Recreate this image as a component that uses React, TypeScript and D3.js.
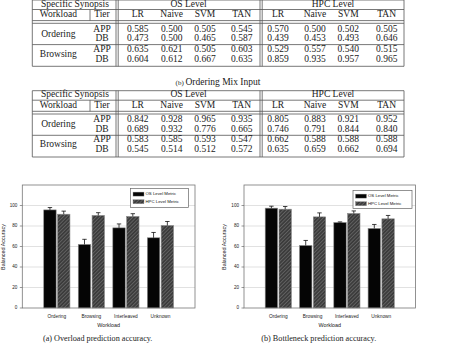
import React from "react";
import * as d3 from "d3";

// ---- table data (rows: Ordering APP, Ordering DB, Browsing APP, Browsing DB; cols: OS LR..TAN, HPC LR..TAN)
const METHODS = ["LR", "Naive", "SVM", "TAN"];
const WORKLOADS = ["Ordering", "Browsing"];
const TIERS = ["APP", "DB"];

const TABLE_TOP_ROWS = [
  ["0.585", "0.500", "0.505", "0.545", "0.570", "0.500", "0.502", "0.505"],
  ["0.473", "0.500", "0.465", "0.587", "0.439", "0.453", "0.493", "0.646"],
  ["0.635", "0.621", "0.505", "0.603", "0.529", "0.557", "0.540", "0.515"],
  ["0.604", "0.612", "0.667", "0.635", "0.859", "0.935", "0.957", "0.965"],
];

const TABLE_MIX_ROWS = [
  ["0.842", "0.928", "0.965", "0.935", "0.805", "0.883", "0.921", "0.952"],
  ["0.689", "0.932", "0.776", "0.665", "0.746", "0.791", "0.844", "0.840"],
  ["0.583", "0.585", "0.593", "0.547", "0.662", "0.588", "0.588", "0.588"],
  ["0.545", "0.514", "0.512", "0.572", "0.635", "0.659", "0.662", "0.694"],
];

// ---- bar chart data
const CATEGORIES = ["Ordering", "Browsing", "Interleaved", "Unknown"];
const SERIES = ["OS Level Metric", "HPC Level Metric"];
const Y_TICKS = [0, 20, 40, 60, 80, 100];

const OVERLOAD_OS = [95.7, 62, 78.2, 68.5];
const OVERLOAD_OS_ERR = [2.3, 5, 3.8, 5.2];
const OVERLOAD_HPC = [91.5, 90.3, 89.3, 80.5];
const OVERLOAD_HPC_ERR = [3, 2.7, 2.7, 3.9];

const BOTTLENECK_OS = [97.4, 61, 83.4, 77.6];
const BOTTLENECK_OS_ERR = [1.9, 4.9, 0.6, 3.9];
const BOTTLENECK_HPC = [96.4, 88.9, 92.2, 87];
const BOTTLENECK_HPC_ERR = [2.6, 3.9, 2.5, 3.3];

const SERIF = "'Liberation Serif', 'Times New Roman', serif";
const SANS = "'Liberation Sans', Arial, sans-serif";
const LINE = "#555";

// column layout of the tables
const COL_X = [137.7, 171.7, 205, 241.7, 278, 315, 348.3, 386.7];
const T_LEFT = 32.3;
const T_RIGHT = 404;

function ResultTable({ y0, rows }: { y0: number; rows: string[][] }) {
  const fs = 9.5;
  const rowY = [29.5, 39.2, 49.6, 59.5].map((v) => y0 + v);
  const hl = (y: number, key: string) => (
    <line key={key} x1={T_LEFT} x2={T_RIGHT} y1={y} y2={y} stroke={LINE} strokeWidth={0.8} />
  );
  const vl = (x: number, ya: number, yb: number, key: string) => (
    <line key={key} x1={x} x2={x} y1={ya} y2={yb} stroke={LINE} strokeWidth={0.8} />
  );
  return (
    <g fontFamily={SERIF} fontSize={fs} fill="#1a1a1a" textAnchor="middle">
      {hl(y0, "t")}
      {hl(y0 + 9.5, "l1")}
      {hl(y0 + 20.6, "d1")}
      {hl(y0 + 23.3, "d2")}
      {hl(y0 + 44.6, "mid")}
      {hl(y0 + 66.3, "b")}
      {vl(T_LEFT, y0, y0 + 66.3, "vl")}
      {vl(T_RIGHT, y0, y0 + 66.3, "vr")}
      {vl(90, y0 + 9.5, y0 + 20.6, "vwt")}
      {vl(116, y0, y0 + 66.3, "v1a")}
      {vl(118.2, y0, y0 + 66.3, "v1b")}
      {vl(260, y0, y0 + 66.3, "v2a")}
      {vl(262.2, y0, y0 + 66.3, "v2b")}

      <text x={75} y={y0 + 4.6} dominantBaseline="middle">Specific Synopsis</text>
      <text x={188.5} y={y0 + 4.6} dominantBaseline="middle">OS Level</text>
      <text x={333} y={y0 + 4.6} dominantBaseline="middle">HPC Level</text>
      <text x={58.3} y={y0 + 15} dominantBaseline="middle">Workload</text>
      <text x={102} y={y0 + 15} dominantBaseline="middle">Tier</text>
      {[...METHODS, ...METHODS].map((m, i) => (
        <text key={"h" + i} x={COL_X[i]} y={y0 + 15} dominantBaseline="middle">{m}</text>
      ))}

      {WORKLOADS.map((w, i) => (
        <text key={w} x={58.3} y={(rowY[i * 2] + rowY[i * 2 + 1]) / 2} dominantBaseline="middle">{w}</text>
      ))}
      {rows.map((r, ri) => (
        <g key={"r" + ri}>
          <text x={102} y={rowY[ri]} dominantBaseline="middle">{TIERS[ri % 2]}</text>
          {r.map((v, ci) => (
            <text key={ci} x={COL_X[ci]} y={rowY[ri]} dominantBaseline="middle">{v}</text>
          ))}
        </g>
      ))}
    </g>
  );
}

interface ChartProps {
  id: string;
  left: number;
  right: number;
  os: number[];
  osErr: number[];
  hpc: number[];
  hpcErr: number[];
  legend: { x: number; y: number; w: number; h: number };
  caption: string;
}

function BarChart({ id, left, right, os, osErr, hpc, hpcErr, legend, caption }: ChartProps) {
  const top = 185;
  const bottom = 308;
  const y = d3.scaleLinear().domain([0, 120]).range([bottom, top]);
  const x = d3.scalePoint<string>().domain(CATEGORIES).range([left, right]).padding(1);
  const inner = d3.scaleBand<string>().domain(SERIES).range([-13.1, 13.1]).paddingInner(0.1);
  const bw = inner.bandwidth();
  const cx = (left + right) / 2;
  const patId = "hatch-" + id;

  const series = [
    { name: SERIES[0], vals: os, err: osErr, fill: "#050505" },
    { name: SERIES[1], vals: hpc, err: hpcErr, fill: `url(#${patId})` },
  ];

  return (
    <g fontFamily={SANS}>
      <defs>
        <pattern id={patId} patternUnits="userSpaceOnUse" width={2.6} height={2.6} patternTransform="rotate(45)">
          <rect width={2.6} height={2.6} fill="#3c3c3c" />
          <line x1={0} y1={0} x2={0} y2={2.6} stroke="#7a7a7a" strokeWidth={1.1} />
        </pattern>
      </defs>

      {/* grid */}
      {Y_TICKS.filter((t) => t > 0).map((t) => (
        <line key={t} x1={left} x2={right} y1={y(t)} y2={y(t)} stroke="#d4d4d4" strokeWidth={0.7} />
      ))}

      {/* bars */}
      {series.map((s) =>
        CATEGORIES.map((c, i) => {
          const bx = (x(c) || 0) + (inner(s.name) || 0);
          const by = y(s.vals[i]);
          const ex = bx + bw / 2;
          const ey = y(s.vals[i] + s.err[i]);
          return (
            <g key={s.name + c}>
              <rect x={bx} y={by} width={bw} height={bottom - by} fill={s.fill} stroke="#8a8a8a" strokeWidth={0.6} />
              <line x1={ex} x2={ex} y1={by} y2={ey} stroke="#111" strokeWidth={0.8} />
              <line x1={ex - 2.2} x2={ex + 2.2} y1={ey} y2={ey} stroke="#111" strokeWidth={0.8} />
            </g>
          );
        })
      )}

      {/* frame */}
      <rect x={left} y={top} width={right - left} height={bottom - top} fill="none" stroke="#777" strokeWidth={0.8} />

      {/* y axis */}
      {Y_TICKS.map((t) => (
        <g key={"yt" + t}>
          <line x1={left - 2.5} x2={left} y1={y(t)} y2={y(t)} stroke="#555" strokeWidth={0.6} />
          <text x={left - 5} y={y(t)} fontSize={4.6} fill="#222" textAnchor="end" dominantBaseline="middle">{t}</text>
        </g>
      ))}
      <text
        transform={`translate(${left - 19},${247}) rotate(-90)`}
        fontSize={5.4}
        fill="#222"
        textAnchor="middle"
        dominantBaseline="middle"
      >
        Balanced Accuracy
      </text>

      {/* x axis */}
      {CATEGORIES.map((c) => (
        <text key={c} x={x(c)} y={316.5} fontSize={4.8} fill="#222" textAnchor="middle" dominantBaseline="middle">{c}</text>
      ))}
      <text x={cx} y={326} fontSize={5.4} fill="#222" textAnchor="middle" dominantBaseline="middle">Workload</text>

      {/* legend */}
      <g>
        <rect x={legend.x} y={legend.y} width={legend.w} height={legend.h} fill="#fff" stroke="#666" strokeWidth={0.7} />
        {series.map((s, i) => {
          const ry = legend.y + 5.6 + i * 7.6;
          return (
            <g key={"lg" + i}>
              <rect x={legend.x + 2.5} y={ry - 2} width={11} height={4} fill={s.fill} stroke="#8a8a8a" strokeWidth={0.4} />
              <text x={legend.x + 15} y={ry} fontSize={4.3} fill="#111" dominantBaseline="middle">{s.name}</text>
            </g>
          );
        })}
      </g>

      <text x={cx - 11} y={339.5} fontFamily={SERIF} fontSize={8.2} fill="#222" textAnchor="middle" dominantBaseline="middle">
        {caption}
      </text>
    </g>
  );
}

export default function App() {
  return (
    <svg
      width={474}
      height={354}
      style={{ position: "absolute", left: 0, top: 0, background: "#fff" }}
    >
      <rect width={474} height={354} fill="#fff" />
      <ResultTable y0={0} rows={TABLE_TOP_ROWS} />
      <text x={218} y={82.8} fontFamily={SERIF} fontSize={9.5} fill="#1a1a1a" textAnchor="middle" dominantBaseline="middle">
        <tspan fontSize={7}>(b) </tspan>Ordering Mix Input
      </text>
      <ResultTable y0={90.7} rows={TABLE_MIX_ROWS} />

      <BarChart
        id="a"
        left={22.3}
        right={195}
        os={OVERLOAD_OS}
        osErr={OVERLOAD_OS_ERR}
        hpc={OVERLOAD_HPC}
        hpcErr={OVERLOAD_HPC_ERR}
        legend={{ x: 130.5, y: 188.5, w: 58, h: 19 }}
        caption="(a) Overload prediction accuracy."
      />
      <BarChart
        id="b"
        left={244}
        right={415.5}
        os={BOTTLENECK_OS}
        osErr={BOTTLENECK_OS_ERR}
        hpc={BOTTLENECK_HPC}
        hpcErr={BOTTLENECK_HPC_ERR}
        legend={{ x: 353, y: 190.5, w: 59, h: 18 }}
        caption="(b) Bottleneck prediction accuracy."
      />
    </svg>
  );
}
